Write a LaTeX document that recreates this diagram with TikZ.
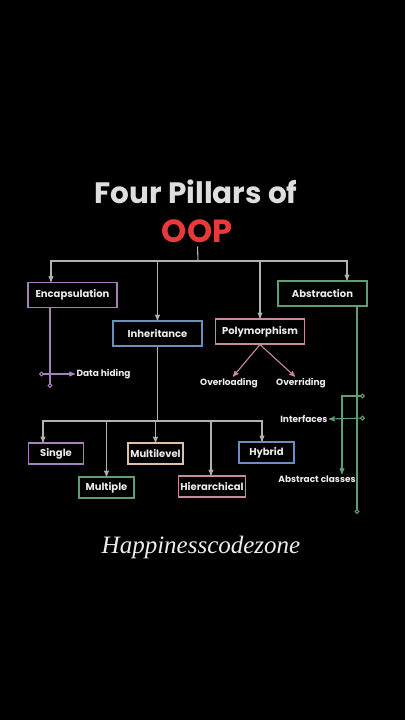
\documentclass[tikz,border=0pt]{standalone}
\usepackage{fontspec}
\setmainfont{Poppins}
\newfontfamily\brandfont{Liberation Serif}
\usetikzlibrary{arrows}
\usetikzlibrary{arrows.meta}
\usetikzlibrary{positioning}
\definecolor{titleGrey}{RGB}{222, 222, 222}
\definecolor{oopRed}{RGB}{232, 58, 58}
\definecolor{lineGrey}{RGB}{178, 178, 178}
\definecolor{boxText}{RGB}{236, 236, 236}
\definecolor{encPurple}{RGB}{166, 128, 184}
\definecolor{absGreen}{RGB}{95, 158, 114}
\definecolor{inhBlue}{RGB}{106, 143, 191}
\definecolor{polyPink}{RGB}{201, 138, 154}
\definecolor{levelTan}{RGB}{224, 192, 160}

\begin{document}
\begin{tikzpicture}[x=1pt, y=-1pt, >=stealth', line width=1.1pt,
    pillar/.style={draw, line width=1.2pt, text=boxText, inner sep=2pt,
                   font=\bfseries\fontsize{10}{12}\selectfont,
                   minimum width=89pt, minimum height=25pt},
    kind/.style={pillar, minimum width=55pt, minimum height=21pt},
    leaf/.style={text=boxText, inner sep=1pt,
                 font=\bfseries\fontsize{9}{11}\selectfont},
    link/.style={draw=lineGrey, line width=1.1pt},
    dot/.tip={Circle[open, length=5pt, width=5pt, fill=black]}]
      \fill [black] (0,0) rectangle (405,720);

      % heading
      \node [text=titleGrey, font=\bfseries\fontsize{29.5}{34}\selectfont]
            (title) at (196,192) {Four Pillars of};
      \node [text=oopRed, font=\bfseries\fontsize{32}{36}\selectfont]
            (oop) at (197,231) {OOP};

      % the four pillars
      \node [pillar, draw=encPurple] (encap) at (72.5,295) {Encapsulation};
      \node [pillar, draw=absGreen] (abst) at (322.5,293.5) {Abstraction};
      \node [pillar, draw=inhBlue] (inher) at (157.5,333.5) {Inheritance};
      \node [pillar, draw=polyPink] (poly) at (260,331.5) {Polymorphism};

      \coordinate (bus) at (198,261);
      \draw [link] (oop) -- (bus);
      \draw [link, ->] (bus) -| ([xshift=-21.5pt]encap.north);
      \draw [link, ->] (bus) -| ([xshift=24.5pt]abst.north);
      \draw [link, ->] (inher.north |- bus) -- (inher.north);
      \draw [link, ->] (poly.north |- bus) -- (poly.north);

      % encapsulation
      \node [leaf, anchor=west] (hiding) at (75,374) {Data hiding};
      \coordinate (encEnd) at (50,388);
      \coordinate (encStart) at (39,374);
      \draw [encPurple, -dot] ([xshift=-22.5pt]encap.south) -- (encEnd);
      \draw [encPurple, dot->] (encStart) -- (hiding.west);

      % polymorphism
      \node [leaf] (overload) at (229,383) {Overloading};
      \node [leaf] (override) at (301,383) {Overriding};
      \draw [polyPink, ->] (poly.south) -- ([xshift=4pt]overload.north);
      \draw [polyPink, ->] (poly.south) -- ([xshift=-6pt]override.north);

      % abstraction
      \node [leaf, anchor=east] (interf) at (329,419) {Interfaces};
      \node [leaf] (abscls) at (317,479) {Abstract classes};
      \coordinate (absEnd) at (357,514);
      \coordinate (absTop) at (365,396);
      \coordinate (absMid) at (365,418);
      \draw [absGreen, -dot] ([xshift=34.5pt]abst.south) -- (absEnd);
      \draw [absGreen, dot->] (absTop) -| ([xshift=25pt]abscls.north);
      \draw [absGreen, dot->] (absMid) -- (interf.east);

      % kinds of inheritance
      \node [kind, draw=encPurple] (single) at (56,453.5) {Single};
      \node [kind, draw=absGreen] (multiple) at (106.5,487.5) {Multiple};
      \node [kind, draw=levelTan] (multilevel) at (155.5,453.5) {Multilevel};
      \node [kind, draw=polyPink] (hier) at (212,486.5) {Hierarchical};
      \node [kind, draw=inhBlue] (hybrid) at (266.5,452.5) {Hybrid};

      \coordinate (bus2) at (157,421);
      \draw [link] (inher.south) -- (inher.south |- bus2);
      \draw [link, ->] (bus2) -| ([xshift=-13pt]single.north);
      \draw [link, ->] (bus2) -| (multiple.north);
      \draw [link, ->] (bus2) -| (multilevel.north);
      \draw [link, ->] (bus2) -| ([xshift=-1pt]hier.north);
      \draw [link, ->] (bus2) -| ([xshift=-4.5pt]hybrid.north);

      \node [text=boxText, font=\brandfont\itshape\fontsize{25}{28}\selectfont]
            (brand) at (201,547) {Happinesscodezone};
\end{tikzpicture}
\end{document}
